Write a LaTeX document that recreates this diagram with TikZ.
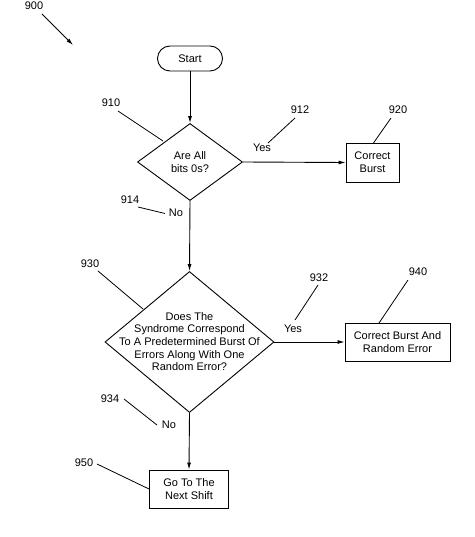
\documentclass[tikz,border=0pt]{standalone}
\usepackage{fontspec}
\setmainfont{Liberation Sans}
\usetikzlibrary{shapes.geometric,arrows.meta}
\begin{document}
\begin{tikzpicture}[x=1pt,y=-1pt,
  every node/.style={font=\fontsize{11}{12.7}\selectfont},
  arr/.style={line width=0.9pt,-{Latex[length=7pt,width=4pt]}},
  lead/.style={line width=0.8pt},
  procbox/.style={draw,line width=0.9pt,rectangle,align=center,inner sep=0pt},
  decision/.style={draw,line width=0.9pt,diamond,inner sep=0pt,aspect=1},
  txt/.style={inner sep=0pt,align=center}]
\useasboundingbox (0,0) rectangle (474,537);
% reference 900
\node[txt] (l900) at (34,6) {900};
\coordinate (a900s) at (42,14);
\coordinate (a900e) at (73,45);
\draw[arr] (a900s) -- (a900e);
% start
\node[procbox,rounded corners=12.5pt,minimum width=65pt,minimum height=25pt] (start) at (190,58.5) {Start};
% diamond 1
\node[decision,minimum width=105pt,minimum height=77pt] (d1) at (190,162) {};
\node[txt] (d1t) at (190,162) {Are All\\bits 0s?};
% correct burst
\node[procbox,minimum width=53pt,minimum height=39pt] (b920) at (372.5,162.5) {Correct\\Burst};
% diamond 2
\node[decision,minimum width=169pt,minimum height=141pt] (d2) at (189.5,342) {};
\node[txt] (d2t) at (189.5,341.5) {Does The\\Syndrome Correspond\\To A Predetermined Burst Of\\Errors Along With One\\Random Error?};
% box 940
\node[procbox,minimum width=105pt,minimum height=38pt] (b940) at (397.5,342) {Correct Burst And\\Random Error};
% box 950
\node[procbox,minimum width=79pt,minimum height=38pt] (b950) at (189,489) {Go To The\\Next Shift};
% connectors
\draw[arr] (start) -- (d1);
\draw[arr] (d1.east) -- (b920.west);
\draw[arr] (d1.south) -- (d2.north);
\draw[arr] (d2.east) -- (b940.west);
\draw[arr] (d2.south) -- (b950.north);
% branch labels
\node[txt] (yes1) at (262,148) {Yes};
\node[txt] (no1) at (176,213) {No};
\node[txt] (yes2) at (293,329) {Yes};
\node[txt] (no2) at (169,425) {No};
% reference labels
\node[txt] (l910) at (111,103) {910};
\node[txt] (l912) at (300,110) {912};
\node[txt] (l920) at (398,110) {920};
\node[txt] (l914) at (130,200) {914};
\node[txt] (l930) at (90,264) {930};
\node[txt] (l932) at (319,278) {932};
\node[txt] (l940) at (418,272) {940};
\node[txt] (l934) at (110,399) {934};
\node[txt] (l950) at (84,463) {950};
% leader end points
\coordinate (s910) at (118,111); \coordinate (e910) at (163,141);
\coordinate (s912) at (295,118); \coordinate (e912) at (268,143);
\coordinate (s920) at (391,118); \coordinate (e920) at (373.5,143);
\coordinate (s914) at (138,207); \coordinate (e914) at (165,213.5);
\coordinate (s930) at (98,271);  \coordinate (e930) at (143,309);
\coordinate (s932) at (318,285); \coordinate (e932) at (295,320);
\coordinate (s940) at (408,280); \coordinate (e940) at (379,323);
\coordinate (s934) at (124,399); \coordinate (e934) at (157,425);
\coordinate (s950) at (97,464);  \coordinate (e950) at (149,489);
\foreach \n in {910,912,920,914,930,932,940,934,950}{
  \draw[lead] (s\n) -- (e\n);
}
\end{tikzpicture}
\end{document}
